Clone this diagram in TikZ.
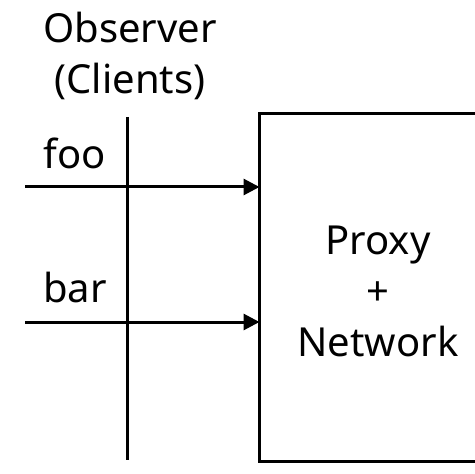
\documentclass[tikz,border=0pt]{standalone}
\usepackage{fontspec}
\setmainfont{Noto Sans}
\usetikzlibrary{arrows.meta}
\tikzset{
  label/.style={font=\fontsize{20}{25.5}\selectfont,align=center,inner sep=0pt},
  server/.style={line width=1.5pt,minimum width=125pt,minimum height=172.5pt,inner sep=0pt},
  stream/.style={line width=1.5pt,-{Triangle[length=8pt,width=8pt]}},
  timeline/.style={line width=1.5pt}
}
\begin{document}
\begin{tikzpicture}[x=0.5pt,y=-0.5pt]
  \useasboundingbox (0,0) rectangle (474,474);
  \node[label] (observer) at (130,56) {Observer\\(Clients)};
  \node[server] (proxy) at (386,287.5) {};
  \draw[timeline] (proxy.north east) -- (proxy.north west) -- (proxy.south west) -- (proxy.south east);
  \node[label] (proxytext) at (378,291) {Proxy\\+\\Network};
  \coordinate (top) at (127,117);
  \coordinate (bottom) at (127,460);
  \draw[timeline] (top) -- (bottom);
  \node[label] (foo) at (75,153) {foo};
  \node[label] (bar) at (75,288) {bar};
  \coordinate (fooin) at (25,187);
  \coordinate (barin) at (25,322);
  \draw[stream] (fooin) -- (proxy.west |- fooin);
  \draw[stream] (barin) -- (proxy.west |- barin);
\end{tikzpicture}
\end{document}
